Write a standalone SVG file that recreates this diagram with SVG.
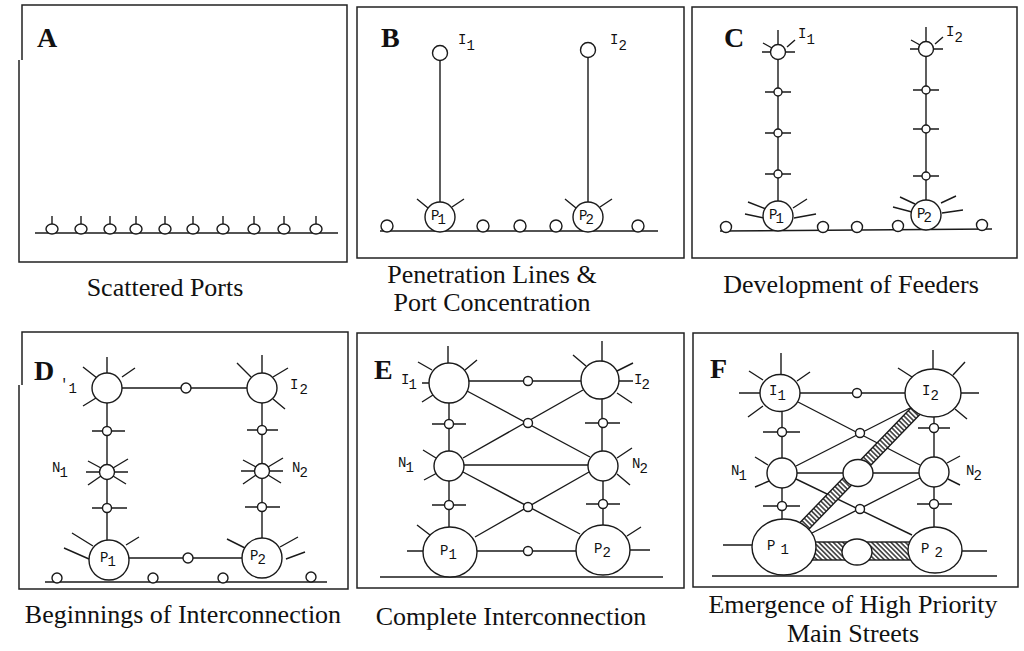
<svg xmlns="http://www.w3.org/2000/svg" width="1024" height="651" viewBox="0 0 1024 651">
<defs>
<pattern id="hatch" patternUnits="userSpaceOnUse" width="3.4" height="3.4" patternTransform="rotate(45)">
<rect width="3.4" height="3.4" fill="#fff"/>
<line x1="0" y1="1.7" x2="3.4" y2="1.7" stroke="#111" stroke-width="1.3"/>
</pattern>
</defs>
<style>
.box{fill:none;stroke:#222;stroke-width:1.5}
.ln{fill:none;stroke:#1a1a1a;stroke-width:1.4}
.nd{fill:#fff;stroke:#1a1a1a;stroke-width:1.4}
.band{fill:url(#hatch);stroke:#1a1a1a;stroke-width:1.4}
.cap{font-family:"Liberation Serif","Times New Roman",serif;font-size:26px;text-anchor:middle;fill:#111}
.let{font-family:"Liberation Serif","Times New Roman",serif;font-size:28px;font-weight:bold;fill:#111}
.lb{font-family:"Liberation Mono","Courier New",monospace;font-size:14px;fill:#111}
.sb{font-size:14px}
</style>
<rect width="1024" height="651" fill="#fff"/>

<!-- Panel A -->
<g id="panelA">
<path class="box" d="M22,60 V5 H347 V262 H19 V60"/>
<text class="let" x="37" y="47">A</text>
<path class="ln" d="M35,233 H338"/>
<g id="portsA">
<path class="ln" d="M52,216 V224 M81,216 V224 M110,216 V224 M136,216 V224 M165,216 V224 M193,216 V224 M223,216 V224 M254,216 V224 M284,216 V224 M316,216 V224"/>
<ellipse class="nd" cx="52" cy="229" rx="6" ry="5"/>
<ellipse class="nd" cx="81" cy="229" rx="6" ry="5"/>
<ellipse class="nd" cx="110" cy="229" rx="6" ry="5"/>
<ellipse class="nd" cx="136" cy="229" rx="6" ry="5"/>
<ellipse class="nd" cx="165" cy="229" rx="6" ry="5"/>
<ellipse class="nd" cx="193" cy="229" rx="6" ry="5"/>
<ellipse class="nd" cx="223" cy="229" rx="6" ry="5"/>
<ellipse class="nd" cx="254" cy="229" rx="6" ry="5"/>
<ellipse class="nd" cx="284" cy="229" rx="6" ry="5"/>
<ellipse class="nd" cx="316" cy="229" rx="6" ry="5"/>
</g>
<text class="cap" x="165" y="296">Scattered Ports</text>
</g>

<!-- Panel B -->
<g id="panelB">
<rect class="box" x="357" y="7" width="327" height="251"/>
<text class="let" x="381" y="47">B</text>
<g id="connB">
<path class="ln" d="M380,231 H658"/>
<path class="ln" d="M440,60.5 V202 M588,57.5 V202"/>
<path class="ln" d="M417,199 L428,208 M452,207 L464,199 M565,199 L576,208 M600,207 L612,199"/>
</g>
<g id="B_I1"><circle class="nd" cx="440" cy="53" r="7.5"/><text class="lb" x="458" y="44">I<tspan class="sb" dx="0" dy="6">1</tspan></text></g>
<g id="B_I2"><circle class="nd" cx="588" cy="50" r="7.5"/><text class="lb" x="610" y="44">I<tspan class="sb" dx="0" dy="6">2</tspan></text></g>
<g id="B_P1"><circle class="nd" cx="440" cy="217" r="15"/><text class="lb" x="431" y="220">P<tspan class="sb" dx="-2" dy="4">1</tspan></text></g>
<g id="B_P2"><circle class="nd" cx="588" cy="217" r="15"/><text class="lb" x="579" y="220">P<tspan class="sb" dx="-2" dy="4">2</tspan></text></g>
<g id="B_ports">
<circle class="nd" cx="387" cy="226" r="6"/>
<circle class="nd" cx="483" cy="226" r="6"/>
<circle class="nd" cx="520" cy="226" r="6"/>
<circle class="nd" cx="556" cy="226" r="6"/>
<circle class="nd" cx="638" cy="226" r="6"/>
</g>
<text class="cap" x="492" y="283">Penetration Lines &amp;</text>
<text class="cap" x="492" y="311">Port Concentration</text>
</g>

<!-- Panel C -->
<g id="panelC">
<rect class="box" x="692" y="7" width="325" height="251"/>
<text class="let" x="724" y="47">C</text>
<g id="connC">
<path class="ln" d="M720,231 L992,229"/>
<path class="ln" d="M778,59.5 V201 M926,56.5 V200"/>
<path class="ln" d="M778,30 V44 M763,43 L772,48 M787,47 L795,40 M762,52 H770 M786,52 H795"/>
<path class="ln" d="M926,27 V41 M911,40 L920,45 M935,44 L943,37 M910,49 H918 M934,49 H943"/>
<path class="ln" d="M765,92 H791 M765,133 H791 M765,174 H791 M913,90 H939 M913,129 H939 M913,176 H939"/>
<path class="ln" d="M748,202 L766,209 M745,214 L764,218 M793,208 L807,199 M794,218 L816,214"/>
<path class="ln" d="M900,197 L915,204 M893,207 L912,212 M941,203 L956,196 M942,213 L963,210"/>
</g>
<g id="C_I1"><circle class="nd" cx="778" cy="52" r="7.5"/><text class="lb" x="798" y="38">I<tspan class="sb" dx="0" dy="6">1</tspan></text></g>
<g id="C_I2"><circle class="nd" cx="926" cy="49" r="7.5"/><text class="lb" x="946" y="36">I<tspan class="sb" dx="0" dy="6">2</tspan></text></g>
<circle class="nd" cx="778" cy="92" r="4"/>
<circle class="nd" cx="778" cy="133" r="4"/>
<circle class="nd" cx="778" cy="174" r="4"/>
<circle class="nd" cx="926" cy="90" r="4"/>
<circle class="nd" cx="926" cy="129" r="4"/>
<circle class="nd" cx="926" cy="176" r="4"/>
<g id="C_P1"><circle class="nd" cx="778" cy="216" r="15"/><text class="lb" x="769" y="219">P<tspan class="sb" dx="-2" dy="4">1</tspan></text></g>
<g id="C_P2"><circle class="nd" cx="926" cy="215" r="15"/><text class="lb" x="917" y="218">P<tspan class="sb" dx="-2" dy="4">2</tspan></text></g>
<g id="C_ports">
<circle class="nd" cx="726" cy="227" r="5.5"/>
<circle class="nd" cx="823" cy="227" r="5.5"/>
<circle class="nd" cx="857" cy="227" r="5.5"/>
<circle class="nd" cx="898" cy="226" r="5.5"/>
<circle class="nd" cx="982" cy="225" r="5.5"/>
</g>
<text class="cap" x="851" y="293">Development of Feeders</text>
</g>

<!-- Panel D -->
<g id="panelD">
<path class="box" d="M22,385 V332 H348 V589 H19 V385"/>
<text class="let" x="34" y="380">D</text>
<g id="connD">
<path class="ln" d="M45,582 H327"/>
<path class="ln" d="M122,388 H247 M129,558 H242 M107,403 V540 M262,403 V538"/>
<path class="ln" d="M107,357 V373 M83,367 L97,378 M122,377 L135,368 M83,406 L96,398"/>
<path class="ln" d="M262,355 V373 M237,363 L251,377 M273,377 L288,368 M273,399 L285,409"/>
<path class="ln" d="M92,431 H125 M92,508 H127 M247,430 H278 M245,507 H280"/>
<path class="ln" d="M88,461 L101,468 M113,468 L128,459 M88,485 L101,476 M113,476 L126,484 M86,472 H128"/>
<path class="ln" d="M243,460 L256,467 M268,467 L283,458 M243,484 L256,475 M268,475 L281,483 M241,471 H283"/>
<path class="ln" d="M72,533 L93,546 M64,548 L89,559 M126,545 L139,537"/>
<path class="ln" d="M227,539 L245,548 M280,547 L298,537 M286,559 L305,552"/>
</g>
<g id="D_I1"><circle class="nd" cx="107" cy="388" r="15"/><text class="lb" x="60" y="389">'<tspan class="sb" dx="0" dy="4">1</tspan></text></g>
<g id="D_I2"><circle class="nd" cx="262" cy="388" r="15"/><text class="lb" x="290" y="389">I<tspan class="sb" dx="1" dy="5">2</tspan></text></g>
<circle class="nd" cx="186" cy="388" r="5"/>
<circle class="nd" cx="188" cy="558" r="5"/>
<circle class="nd" cx="107" cy="431" r="4.5"/>
<circle class="nd" cx="107" cy="508" r="4.5"/>
<circle class="nd" cx="262" cy="430" r="4.5"/>
<circle class="nd" cx="262" cy="507" r="4.5"/>
<g id="D_N1"><circle class="nd" cx="107" cy="472" r="7.5"/><text class="lb" x="52" y="472">N<tspan class="sb" dx="-1" dy="5">1</tspan></text></g>
<g id="D_N2"><circle class="nd" cx="262" cy="471" r="7.5"/><text class="lb" x="292" y="472">N<tspan class="sb" dx="-1" dy="5">2</tspan></text></g>
<g id="D_P1"><circle class="nd" cx="109" cy="560" r="20"/><text class="lb" x="100" y="562">P<tspan class="sb" dx="-1" dy="4">1</tspan></text></g>
<g id="D_P2"><circle class="nd" cx="262" cy="558" r="20"/><text class="lb" x="250" y="560">P<tspan class="sb" dx="-1" dy="4">2</tspan></text></g>
<g id="D_ports">
<circle class="nd" cx="57" cy="578" r="5"/>
<circle class="nd" cx="153" cy="578" r="5"/>
<circle class="nd" cx="223" cy="578" r="5"/>
<circle class="nd" cx="311" cy="577" r="5"/>
</g>
<text class="cap" x="183" y="623">Beginnings of Interconnection</text>
</g>

<!-- Panel E -->
<g id="panelE">
<rect class="box" x="357" y="333" width="327" height="255"/>
<text class="let" x="374" y="379">E</text>
<g id="connE">
<path class="ln" d="M380,577 H663"/>
<path class="ln" d="M469,381 H581 M464,465 H588 M477,551 H576"/>
<path class="ln" d="M467,391 L590,457 M583,390 L463,458 M463,472 L580,534 M589,472 L475,537"/>
<path class="ln" d="M449,403 V451 M449,481 V527 M602,399 V451 M603,481 V525"/>
<path class="ln" d="M448,346 V363 M418,362 L432,370 M465,370 L477,360 M422,402 L433,395 M422,383 H429"/>
<path class="ln" d="M602,341 V361 M573,355 L586,366 M617,371 L633,363 M619,381 H633 M617,393 L632,403"/>
<path class="ln" d="M432,424 H466 M432,505 H466 M585,423 H620 M586,504 H620"/>
<path class="ln" d="M423,450 L436,458 M424,480 L437,473 M617,458 L632,448 M617,474 L630,485"/>
<path class="ln" d="M417,525 L430,535 M407,551 H423 M627,536 L641,527 M630,550 H650"/>
</g>
<g id="E_I1"><circle class="nd" cx="449" cy="383" r="20"/><text class="lb" x="401" y="384">I<tspan class="sb" dx="-1" dy="5">1</tspan></text></g>
<g id="E_I2"><circle class="nd" cx="600" cy="380" r="19"/><text class="lb" x="634" y="384">I<tspan class="sb" dx="-1" dy="5">2</tspan></text></g>
<circle class="nd" cx="528" cy="381" r="4.5"/>
<circle class="nd" cx="528" cy="423" r="4.5"/>
<circle class="nd" cx="528" cy="507" r="4.5"/>
<circle class="nd" cx="528" cy="551" r="4.5"/>
<circle class="nd" cx="449" cy="424" r="4.5"/>
<circle class="nd" cx="449" cy="505" r="4.5"/>
<circle class="nd" cx="603" cy="423" r="4.5"/>
<circle class="nd" cx="603" cy="504" r="4.5"/>
<g id="E_N1"><circle class="nd" cx="449" cy="466" r="15"/><text class="lb" x="398" y="467">N<tspan class="sb" dx="-1" dy="5">1</tspan></text></g>
<g id="E_N2"><circle class="nd" cx="603" cy="466" r="15"/><text class="lb" x="632" y="468">N<tspan class="sb" dx="-1" dy="5">2</tspan></text></g>
<g id="E_P1"><ellipse class="nd" cx="450" cy="552" rx="27" ry="25"/><text class="lb" x="440" y="555">P<tspan class="sb" dx="0" dy="4">1</tspan></text></g>
<g id="E_P2"><ellipse class="nd" cx="603" cy="550" rx="27" ry="25"/><text class="lb" x="594" y="553">P<tspan class="sb" dx="0" dy="4">2</tspan></text></g>
<text class="cap" x="511" y="625">Complete Interconnection</text>
</g>

<!-- Panel F -->
<g id="panelF">
<rect class="box" x="693" y="333" width="325" height="254"/>
<text class="let" x="710" y="378">F</text>
<g id="connF">
<path class="ln" d="M712,576 H997"/>
<path class="ln" d="M800,393 H905 M797,473 H845 M873,473 H919"/>
<path class="ln" d="M798,402 L920,465 M796,466 L910,408 M796,479 L912,535 M920,478 L812,533"/>
<path class="ln" d="M782,411 V458 M782,488 V519 M934,417 V457 M934,487 V527"/>
<path class="ln" d="M781,353 V375 M749,371 L763,380 M797,381 L810,372 M739,393 H760 M748,417 L763,406"/>
<path class="ln" d="M933,350 V369 M898,368 L912,377 M953,375 L965,362 M961,393 H979 M955,409 L967,419"/>
<path class="ln" d="M763,432 H800 M763,506 H800 M918,428 H950 M917,504 H952"/>
<path class="ln" d="M755,457 L768,465 M755,487 L769,481 M947,463 L960,456 M948,479 L960,485"/>
<path class="ln" d="M723,545 H752 M962,551 H987"/>
<polygon class="band" points="780,543.2 788,550.8 937,396.8 929,389.2"/>
<rect class="band" x="800" y="542" width="115" height="18"/>
</g>
<g id="F_I1"><ellipse class="nd" cx="780" cy="393" rx="20" ry="18.5"/><text class="lb" x="769" y="395">I<tspan class="sb" dx="0" dy="5">1</tspan></text></g>
<g id="F_I2"><ellipse class="nd" cx="933" cy="393" rx="28" ry="24"/><text class="lb" x="922" y="395">I<tspan class="sb" dx="0" dy="5">2</tspan></text></g>
<circle class="nd" cx="857" cy="393" r="4.5"/>
<circle class="nd" cx="860" cy="433" r="4.5"/>
<circle class="nd" cx="860" cy="509" r="4.5"/>
<circle class="nd" cx="782" cy="432" r="4.5"/>
<circle class="nd" cx="782" cy="506" r="4.5"/>
<circle class="nd" cx="934" cy="428" r="4.5"/>
<circle class="nd" cx="934" cy="504" r="4.5"/>
<g id="F_N1"><circle class="nd" cx="782" cy="473" r="15"/><text class="lb" x="731" y="475">N<tspan class="sb" dx="-1" dy="5">1</tspan></text></g>
<g id="F_M"><ellipse class="nd" cx="858" cy="473" rx="15" ry="13.5"/></g>
<g id="F_N2"><circle class="nd" cx="934" cy="472" r="15"/><text class="lb" x="966" y="475">N<tspan class="sb" dx="-1" dy="5">2</tspan></text></g>
<g id="F_P1"><ellipse class="nd" cx="784" cy="547" rx="32" ry="28"/><text class="lb" x="767" y="550">P<tspan class="sb" dx="5" dy="4">1</tspan></text></g>
<g id="F_P2"><ellipse class="nd" cx="935" cy="550" rx="27" ry="23"/><text class="lb" x="921" y="553">P<tspan class="sb" dx="5" dy="4">2</tspan></text></g>
<g id="F_M2"><ellipse class="nd" cx="857" cy="552" rx="15" ry="13"/></g>
<text class="cap" x="853" y="613">Emergence of High Priority</text>
<text class="cap" x="853" y="642">Main Streets</text>
</g>
</svg>
